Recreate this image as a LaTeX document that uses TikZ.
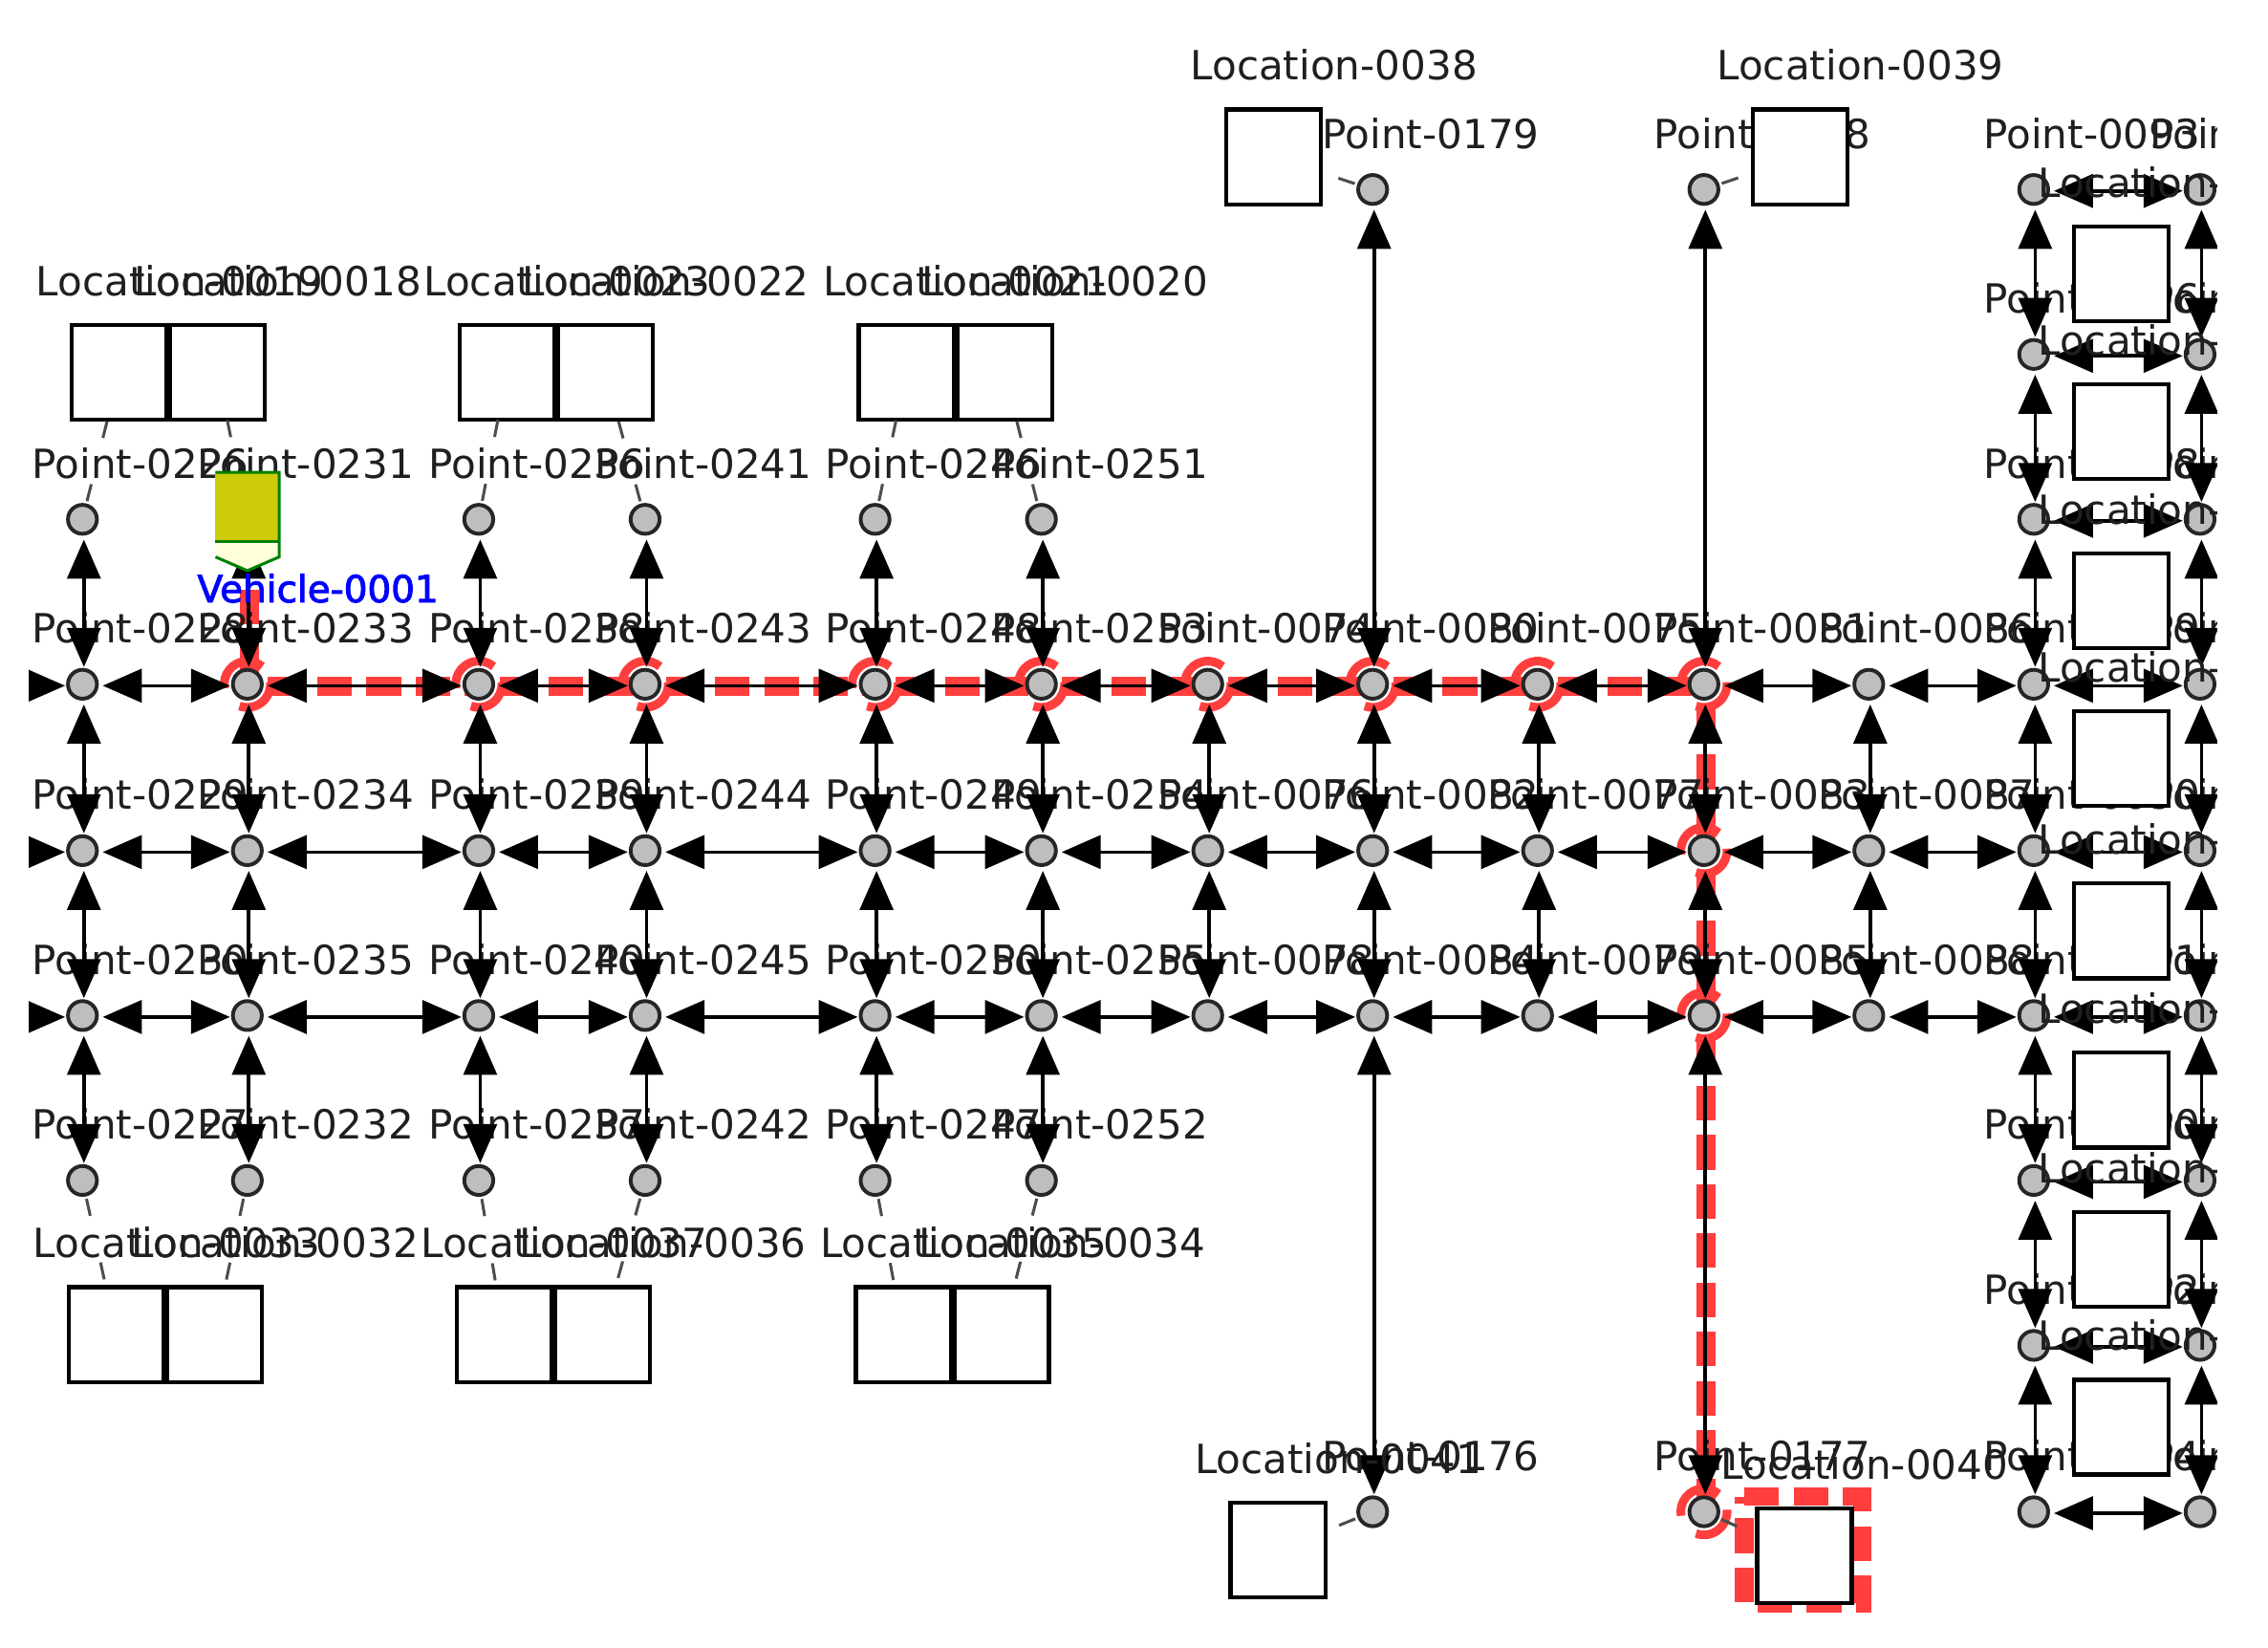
\documentclass[tikz,border=0pt]{standalone}
\usepackage{fontspec}
\setmainfont{DejaVu Sans}
\newfontfamily\vehfont[FakeBold=2.5]{DejaVu Sans}
\usetikzlibrary{arrows.meta}
\pgfdeclarelayer{routelayer}
\pgfdeclarelayer{ptlab}
\pgfdeclarelayer{edgelayer}
\pgfdeclarelayer{loclab}
\pgfdeclarelayer{vehlayer}
\pgfsetlayers{routelayer,ptlab,edgelayer,main,loclab,vehlayer}
\definecolor{routered}{RGB}{255,62,62}
\definecolor{ptgrey}{RGB}{190,190,190}
\definecolor{vehyellow}{RGB}{204,204,10}
\definecolor{vehpale}{RGB}{255,255,220}
\definecolor{vehgreen}{RGB}{0,128,0}
\newcommand\lblfont{\fontsize{27.8}{30}\selectfont}
\tikzset{
  ptnode/.style={circle,draw=black!85,fill=ptgrey,line width=2.6pt,minimum size=20pt,inner sep=0pt,outer sep=3pt},
  txt/.style={anchor=base west,inner sep=0pt,outer sep=0pt,font=\lblfont,text=black!88},
  conn/.style={line width=2.4pt,black,{Triangle[length=27pt,width=23pt]}-{Triangle[length=27pt,width=23pt]},transform canvas={shift={(1pt,-1pt)}}},
  connin/.style={line width=2.4pt,black,-{Triangle[length=27pt,width=23pt]},transform canvas={shift={(1pt,-1pt)}}},
  connout/.style={line width=2.4pt,black,transform canvas={shift={(1pt,-1pt)}}},
  locbox/.style={draw=black,fill=white,line width=2.8pt,minimum size=65.5pt,inner sep=0pt,outer sep=0pt},
  linkline/.style={line width=2pt,black!70,dash pattern=on 12pt off 33pt},
  routeline/.style={line width=13pt,routered,dash pattern=on 24pt off 10pt,dash phase=21pt,transform canvas={shift={(1.3pt,-1.5pt)}}},
  routebox/.style={line width=13pt,routered,dash pattern=on 24pt off 10pt},
  routering/.style={line width=6pt,routered},
}
\newcommand\placeloc[3]{%
  \node[locbox] (l#1) at (#2+33.5,1139-#3-33.5) {};
  \begin{pgfonlayer}{loclab}
    \node[txt] (lt#1) at (#2-24,1139-#3+19.5) {Location-#1};
  \end{pgfonlayer}}
\newcommand\ringat[1]{%
  \draw[routering] ([shift={(50:16pt)}]p#1.center) arc[start angle=50,end angle=190,radius=16pt];
  \draw[routering] ([shift={(250:16pt)}]p#1.center) arc[start angle=250,end angle=365,radius=16pt];}
\begin{document}
\begin{tikzpicture}[x=1pt,y=1pt]
\useasboundingbox (0,0) rectangle (1568,1139);
% points
\foreach \n/\x/\y in {
 0226/57/359,0228/57/473,0229/57/588,0230/57/702,0227/57/816,
 0231/171/359,0233/171/473,0234/171/588,0235/171/702,0232/171/816,
 0236/331/359,0238/331/473,0239/331/588,0240/331/702,0237/331/816,
 0241/446/359,0243/446/473,0244/446/588,0245/446/702,0242/446/816,
 0246/605/359,0248/605/473,0249/605/588,0250/605/702,0247/605/816,
 0251/720/359,0253/720/473,0254/720/588,0255/720/702,0252/720/816,
 0074/835/473,0076/835/588,0078/835/702,
 0179/949/131,0080/949/473,0082/949/588,0084/949/702,0176/949/1045,
 0075/1063/473,0077/1063/588,0079/1063/702,
 0178/1178/131,0081/1178/473,0083/1178/588,0085/1178/702,0177/1178/1045,
 0086/1292/473,0087/1292/588,0088/1292/702,
 0093/1406/131,0096/1406/245,0098/1406/359,0089/1406/473,0090/1406/588,0091/1406/702,0100/1406/816,0102/1406/930,0104/1406/1045,
 0094/1521/131,0097/1521/245,0099/1521/359,0092/1521/473,0095/1521/588,0101/1521/702,0103/1521/816,0105/1521/930,0106/1521/1045}{
  \node[ptnode] (p\n) at (\x,1139-\y) {};
  \begin{pgfonlayer}{ptlab}
    \node[txt] (t\n) at (\x-34.6,1139-\y+28.5) {Point-\n};
  \end{pgfonlayer}
}
% locations
\placeloc{0038}{847}{75}
\placeloc{0039}{1211}{75}
\placeloc{0019}{49}{224}
\placeloc{0018}{117}{224}
\placeloc{0023}{317}{224}
\placeloc{0022}{385}{224}
\placeloc{0021}{593}{224}
\placeloc{0020}{661}{224}
\placeloc{0033}{47}{889}
\placeloc{0032}{115}{889}
\placeloc{0037}{315}{889}
\placeloc{0036}{383}{889}
\placeloc{0035}{591}{889}
\placeloc{0034}{659}{889}
\placeloc{0041}{850}{1038}
\placeloc{0040}{1214}{1042}
\placeloc{0042}{1433}{156}
\placeloc{0043}{1433}{265}
\placeloc{0044}{1433}{382}
\placeloc{0045}{1433}{491}
\placeloc{0046}{1433}{610}
\placeloc{0047}{1433}{727}
\placeloc{0048}{1433}{837}
\placeloc{0049}{1433}{953}
% links
\foreach \a/\b in {0226/0019,0231/0018,0236/0023,0241/0022,0246/0021,0251/0020,
  0227/0033,0232/0032,0237/0037,0242/0036,0247/0035,0252/0034,
  0179/0038,0178/0039,0176/0041,0177/0040}{
  \draw[linkline] (p\a) -- (l\b);
}
% free ends
\foreach \r/\y in {a/473,b/588,c/702}{
  \coordinate (west\r) at (-58,1139-\y);
  \coordinate (east\r) at (1640,1139-\y);
}
% route
\begin{pgfonlayer}{routelayer}
\foreach \a/\b in {0231/0233,0233/0238,0238/0243,0243/0248,0248/0253,0253/0074,0074/0080,0080/0075,0075/0081,0081/0083,0083/0085,0085/0177}{
  \draw[routeline] (p\a.center) -- (p\b.center);
}
\foreach \a in {0233,0238,0243,0248,0253,0074,0080,0075,0081,0083,0085,0177}{\ringat{\a}}
\draw[routebox] (1206,1139-1034.5) -- (1287.5,1139-1034.5) -- (1287.5,1139-1108.5) -- (1206,1139-1108.5) -- cycle;
\end{pgfonlayer}
% connectors
\begin{pgfonlayer}{edgelayer}
\foreach \a/\b in {
 0228/0233,0233/0238,0238/0243,0243/0248,0248/0253,0253/0074,0074/0080,0080/0075,0075/0081,0081/0086,0086/0089,0089/0092,
 0229/0234,0234/0239,0239/0244,0244/0249,0249/0254,0254/0076,0076/0082,0082/0077,0077/0083,0083/0087,0087/0090,0090/0095,
 0230/0235,0235/0240,0240/0245,0245/0250,0250/0255,0255/0078,0078/0084,0084/0079,0079/0085,0085/0088,0088/0091,0091/0101,
 0093/0094,0096/0097,0098/0099,0100/0103,0102/0105,0104/0106,
 0226/0228,0228/0229,0229/0230,0230/0227,
 0231/0233,0233/0234,0234/0235,0235/0232,
 0236/0238,0238/0239,0239/0240,0240/0237,
 0241/0243,0243/0244,0244/0245,0245/0242,
 0246/0248,0248/0249,0249/0250,0250/0247,
 0251/0253,0253/0254,0254/0255,0255/0252,
 0074/0076,0076/0078,
 0179/0080,0080/0082,0082/0084,0084/0176,
 0075/0077,0077/0079,
 0178/0081,0081/0083,0083/0085,0085/0177,
 0086/0087,0087/0088,
 0093/0096,0096/0098,0098/0089,0089/0090,0090/0091,0091/0100,0100/0102,0102/0104,
 0094/0097,0097/0099,0099/0092,0092/0095,0095/0101,0101/0103,0103/0105,0105/0106}{
  \draw[conn] (p\a) -- (p\b);
}
\draw[connin] (westa) -- (p0228);
\draw[connin] (westb) -- (p0229);
\draw[connin] (westc) -- (p0230);
\draw[connout] (p0092) -- (easta);
\draw[connout] (p0095) -- (eastb);
\draw[connout] (p0101) -- (eastc);
\end{pgfonlayer}
% vehicle
\begin{pgfonlayer}{vehlayer}
\fill[vehyellow] (149,1139-326.5) rectangle (193,1139-374.6);
\fill[vehpale] (149,1139-374.6) -- (193,1139-374.6) -- (193,1139-385) -- (171,1139-394.5) -- (149,1139-385) -- cycle;
\draw[vehgreen,line width=2pt] (149,1139-326.5) -- (193,1139-326.5) -- (193,1139-385) -- (171,1139-394.5) -- (149,1139-385);
\draw[vehgreen,line width=2pt] (149,1139-374.6) -- (193,1139-374.6);
\node[anchor=base west,inner sep=0pt,outer sep=0pt,font=\vehfont\fontsize{25.7}{28}\selectfont,text=blue] (v1) at (136.5,1139-416.3) {Vehicle-0001};
% picture edges
\fill[white] (-120,-20) rectangle (20,1160);
\fill[white] (1533,-20) rectangle (1720,1160);
\end{pgfonlayer}
\end{tikzpicture}
\end{document}
